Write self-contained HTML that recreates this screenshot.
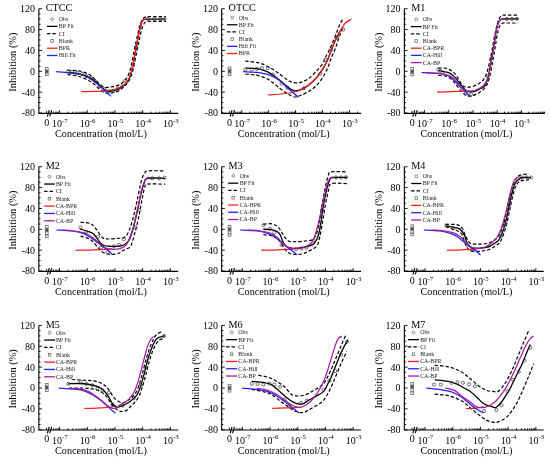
<!DOCTYPE html>
<html><head><meta charset="utf-8"><title>Inhibition curves</title><style>
html,body{margin:0;padding:0;background:#fff;overflow:hidden;}
svg{display:block;}
text{font-family:"Liberation Serif","Times New Roman",serif;fill:#000;}
.tl{font-size:10px;}
.sup{font-size:6.8px;}
.al{font-size:10.2px;}
.yl{font-size:10.4px;}
.tt{font-size:10.2px;}
.lg{font-size:5.9px;fill:#222;}
.ax{fill:none;stroke:#000;stroke-width:1.1;}
.tk{fill:none;stroke:#000;stroke-width:0.9;}
.brk{fill:none;stroke:#000;stroke-width:1.15;}
.ci{fill:none;stroke:#000;stroke-width:1.2;stroke-dasharray:3.4 2;}
.cv{fill:none;stroke-linejoin:round;}
.ln{stroke-width:1.3;}
.mk{fill:none;stroke:#444;stroke-width:0.6;}
.ob{fill:none;stroke:#333;stroke-width:0.7;}
.bk{stroke:#666;stroke-width:0.8;}
.bkl{stroke:#555;stroke-width:0.6;}
</style></head>
<body><svg width="550" height="460" viewBox="0 0 550 460">
<rect width="550" height="460" fill="#fff"/>
<g transform="translate(0 0)">
<path d="M38.85 8.72 V113.35 H178.25" class="ax"/>
<path d="M38.85 113.02h3.2 M38.85 107.8h1.7 M38.85 102.59h1.7 M38.85 97.38h1.7 M38.85 92.16h3.2 M38.85 86.94h1.7 M38.85 81.73h1.7 M38.85 76.52h1.7 M38.85 71.3h3.2 M38.85 66.08h1.7 M38.85 60.87h1.7 M38.85 55.66h1.7 M38.85 50.44h3.2 M38.85 45.22h1.7 M38.85 40.01h1.7 M38.85 34.8h1.7 M38.85 29.58h3.2 M38.85 24.37h1.7 M38.85 19.15h1.7 M38.85 13.94h1.7 M38.85 8.72h3.2 M53.4 113.35v-1.7 M55.26 113.35v-1.7 M56.87 113.35v-1.7 M58.28 113.35v-1.7 M59.55 113.35v-3.2 M67.89 113.35v-1.7 M72.77 113.35v-1.7 M76.23 113.35v-1.7 M78.91 113.35v-1.7 M81.1 113.35v-1.7 M82.96 113.35v-1.7 M84.57 113.35v-1.7 M85.98 113.35v-1.7 M87.25 113.35v-3.2 M95.59 113.35v-1.7 M100.47 113.35v-1.7 M103.93 113.35v-1.7 M106.61 113.35v-1.7 M108.8 113.35v-1.7 M110.66 113.35v-1.7 M112.27 113.35v-1.7 M113.68 113.35v-1.7 M114.95 113.35v-3.2 M123.29 113.35v-1.7 M128.17 113.35v-1.7 M131.63 113.35v-1.7 M134.31 113.35v-1.7 M136.5 113.35v-1.7 M138.36 113.35v-1.7 M139.97 113.35v-1.7 M141.38 113.35v-1.7 M142.65 113.35v-3.2 M150.99 113.35v-1.7 M155.87 113.35v-1.7 M159.33 113.35v-1.7 M162.01 113.35v-1.7 M164.2 113.35v-1.7 M166.06 113.35v-1.7 M167.67 113.35v-1.7 M169.08 113.35v-1.7 M170.35 113.35v-3.2 M46.55 113.35v-2.4" class="tk"/>
<path d="M47.35 116.6 L49.25 110.2 M49.75 116.4 L51.75 110.2" class="brk"/>
<text x="35.1" y="116.42" class="tl" text-anchor="end">-80</text>
<text x="35.1" y="95.56" class="tl" text-anchor="end">-40</text>
<text x="35.1" y="74.7" class="tl" text-anchor="end">0</text>
<text x="35.1" y="53.84" class="tl" text-anchor="end">40</text>
<text x="35.1" y="32.98" class="tl" text-anchor="end">80</text>
<text x="35.1" y="12.12" class="tl" text-anchor="end">120</text>
<text x="46.65" y="125.5" class="tl" text-anchor="middle">0</text>
<text x="59.95" y="126.9" class="tl" text-anchor="middle">10<tspan class="sup" dy="-4.4">-7</tspan></text>
<text x="87.65" y="126.9" class="tl" text-anchor="middle">10<tspan class="sup" dy="-4.4">-6</tspan></text>
<text x="115.35" y="126.9" class="tl" text-anchor="middle">10<tspan class="sup" dy="-4.4">-5</tspan></text>
<text x="143.05" y="126.9" class="tl" text-anchor="middle">10<tspan class="sup" dy="-4.4">-4</tspan></text>
<text x="170.75" y="126.9" class="tl" text-anchor="middle">10<tspan class="sup" dy="-4.4">-3</tspan></text>
<text x="101" y="137" class="al" text-anchor="middle">Concentration (mol/L)</text>
<text transform="translate(16.1 62.1) rotate(-90)" class="al yl" text-anchor="middle">Inhibition (%)</text>
<text x="45.75" y="11.2" class="tt">CTCC</text>
<circle cx="52.2" cy="19.1" r="1.4" class="mk"/>
<text x="58.75" y="21" class="lg">Obs</text>
<path d="M46.95 26.38H57.45" stroke="#000" class="ln"/>
<text x="58.75" y="28.28" class="lg">BP Fit</text>
<path d="M46.95 33.66H57.45" class="ci"/>
<text x="58.75" y="35.56" class="lg">CI</text>
<rect x="50.9" y="39.64" width="2.6" height="2.6" class="mk"/>
<text x="58.75" y="42.84" class="lg">Blank</text>
<path d="M46.95 48.22H57.45" stroke="#ff1c1c" class="ln"/>
<text x="58.75" y="50.12" class="lg">BPR</text>
<path d="M46.95 55.5H57.45" stroke="#2222fa" class="ln"/>
<text x="58.75" y="57.4" class="lg">Hill Fit</text>
<rect x="45.35" y="67.6" width="2.8" height="2.33" fill="#fff" class="bk"/>
<rect x="45.35" y="70.43" width="2.8" height="2.33" fill="#444" class="bk"/>
<rect x="45.35" y="73.27" width="2.8" height="2.33" fill="#fff" class="bk"/>
</g>
<path d="M67.5 72.4 C69.43 72.63 75.72 73.08 79.1 73.8 C82.48 74.52 85.13 75.48 87.8 76.7 C90.47 77.92 92.92 79.4 95.1 81.1 C97.28 82.8 99.2 85.38 100.9 86.9 C102.6 88.42 103.6 89.47 105.3 90.2 C107 90.93 108.92 91.48 111.1 91.3 C113.28 91.12 116.22 90.1 118.4 89.1 C120.58 88.1 122.63 86.68 124.2 85.3 C125.77 83.92 126.77 82.4 127.8 80.8 C128.83 79.2 129.65 77.8 130.4 75.7 C131.15 73.6 131.7 70.95 132.3 68.2 C132.9 65.45 133.38 62.45 134 59.2 C134.62 55.95 135.3 52.45 136 48.7 C136.7 44.95 137.5 40.28 138.2 36.7 C138.9 33.12 139.57 29.72 140.2 27.2 C140.83 24.68 141.37 22.87 142 21.6 C142.63 20.33 143.17 20.02 144 19.6 C144.83 19.18 143.43 19.18 147 19.1 C150.57 19.02 162.33 19.1 165.4 19.1" stroke="#000" stroke-width="1.3" class="cv"/>
<path d="M67.5 70.2 C69.43 70.32 75.63 70.25 79.1 70.9 C82.57 71.55 85.82 72.88 88.3 74.1 C90.78 75.32 92.23 76.63 94 78.2 C95.77 79.77 97.12 82 98.9 83.5 C100.68 85 102.52 86.65 104.7 87.2 C106.88 87.75 109.55 87.2 112 86.8 C114.45 86.4 117.48 85.63 119.4 84.8 C121.32 83.97 122.23 83.02 123.5 81.8 C124.77 80.58 125.98 79.13 127 77.5 C128.02 75.87 128.83 74.25 129.6 72 C130.37 69.75 130.88 67.33 131.6 64 C132.32 60.67 133.13 55.83 133.9 52 C134.67 48.17 135.43 44.5 136.2 41 C136.97 37.5 137.77 33.92 138.5 31 C139.23 28.08 139.85 25.57 140.6 23.5 C141.35 21.43 142.1 19.72 143 18.6 C143.9 17.48 145 17.13 146 16.8 C147 16.47 145.67 16.63 149 16.6 C152.33 16.57 163.17 16.6 166 16.6" class="ci"/>
<path d="M67.5 74.5 C69.43 74.83 75.5 75.47 79.1 76.5 C82.7 77.53 86.48 79.32 89.1 80.7 C91.72 82.08 93.02 83.37 94.8 84.8 C96.58 86.23 98.02 87.93 99.8 89.3 C101.58 90.67 103.47 92.38 105.5 93 C107.53 93.62 109.82 93.35 112 93 C114.18 92.65 116.68 91.87 118.6 90.9 C120.52 89.93 122.02 88.52 123.5 87.2 C124.98 85.88 126.33 84.62 127.5 83 C128.67 81.38 129.67 79.33 130.5 77.5 C131.33 75.67 131.85 74.33 132.5 72 C133.15 69.67 133.7 66.83 134.4 63.5 C135.1 60.17 135.93 55.75 136.7 52 C137.47 48.25 138.23 44.5 139 41 C139.77 37.5 140.58 33.67 141.3 31 C142.02 28.33 142.57 26.5 143.3 25 C144.03 23.5 144.58 22.6 145.7 22 C146.82 21.4 146.62 21.5 150 21.4 C153.38 21.3 163.33 21.4 166 21.4" class="ci"/>
<path d="M81.3 91.7 C83.35 91.63 90.25 91.37 93.6 91.3 C96.95 91.23 99 91.43 101.4 91.3 C103.8 91.17 105.95 90.77 108 90.5 C110.05 90.23 111.8 90.15 113.7 89.7 C115.6 89.25 117.63 88.65 119.4 87.8 C121.17 86.95 122.9 85.82 124.3 84.6 C125.7 83.38 126.78 82.02 127.8 80.5 C128.82 78.98 129.65 77.58 130.4 75.5 C131.15 73.42 131.7 70.75 132.3 68 C132.9 65.25 133.38 62.25 134 59 C134.62 55.75 135.3 52.25 136 48.5 C136.7 44.75 137.5 40.08 138.2 36.5 C138.9 32.92 139.57 29.5 140.2 27 C140.83 24.5 141.37 22.77 142 21.5 C142.63 20.23 143.33 19.8 144 19.4 C144.67 19 145.67 19.15 146 19.1" stroke="#ff1c1c" stroke-width="1.25" class="cv"/>
<path d="M55.8 71.6 C57.98 71.8 64.78 72.32 68.9 72.8 C73.02 73.28 77.1 73.6 80.5 74.5 C83.9 75.4 86.63 76.73 89.3 78.2 C91.97 79.67 94.08 81.37 96.5 83.3 C98.92 85.23 101.37 87.62 103.8 89.8 C106.23 91.98 109.88 95.3 111.1 96.4" stroke="#2222fa" stroke-width="1.25" class="cv"/>
<circle cx="68" cy="71.5" r="1.55" class="ob"/>
<circle cx="72" cy="72" r="1.55" class="ob"/>
<circle cx="77" cy="73" r="1.55" class="ob"/>
<circle cx="82" cy="74" r="1.55" class="ob"/>
<circle cx="86" cy="76" r="1.55" class="ob"/>
<circle cx="91" cy="78" r="1.55" class="ob"/>
<circle cx="95" cy="81" r="1.55" class="ob"/>
<circle cx="100" cy="86" r="1.55" class="ob"/>
<circle cx="104.5" cy="89" r="1.55" class="ob"/>
<circle cx="109" cy="91.5" r="1.55" class="ob"/>
<circle cx="113" cy="91" r="1.55" class="ob"/>
<circle cx="118" cy="88.5" r="1.55" class="ob"/>
<circle cx="122" cy="86.5" r="1.55" class="ob"/>
<circle cx="125.3" cy="80.5" r="1.55" class="ob"/>
<circle cx="129.9" cy="74.5" r="1.55" class="ob"/>
<circle cx="136" cy="47" r="1.55" class="ob"/>
<circle cx="140.5" cy="27" r="1.55" class="ob"/>
<circle cx="148" cy="19" r="1.55" class="ob"/>
<circle cx="154" cy="19" r="1.55" class="ob"/>
<circle cx="160.5" cy="19" r="1.55" class="ob"/>
<circle cx="164.5" cy="19" r="1.55" class="ob"/>
<g transform="translate(182.8 0)">
<path d="M38.85 8.72 V113.35 H178.3" class="ax"/>
<path d="M38.85 113.02h3.2 M38.85 107.8h1.7 M38.85 102.59h1.7 M38.85 97.38h1.7 M38.85 92.16h3.2 M38.85 86.94h1.7 M38.85 81.73h1.7 M38.85 76.52h1.7 M38.85 71.3h3.2 M38.85 66.08h1.7 M38.85 60.87h1.7 M38.85 55.66h1.7 M38.85 50.44h3.2 M38.85 45.22h1.7 M38.85 40.01h1.7 M38.85 34.8h1.7 M38.85 29.58h3.2 M38.85 24.37h1.7 M38.85 19.15h1.7 M38.85 13.94h1.7 M38.85 8.72h3.2 M53.03 113.35v-1.7 M54.83 113.35v-1.7 M56.39 113.35v-1.7 M57.77 113.35v-1.7 M59 113.35v-3.2 M67.1 113.35v-1.7 M71.83 113.35v-1.7 M75.2 113.35v-1.7 M77.8 113.35v-1.7 M79.93 113.35v-1.7 M81.73 113.35v-1.7 M83.29 113.35v-1.7 M84.67 113.35v-1.7 M85.9 113.35v-3.2 M94 113.35v-1.7 M98.73 113.35v-1.7 M102.1 113.35v-1.7 M104.7 113.35v-1.7 M106.83 113.35v-1.7 M108.63 113.35v-1.7 M110.19 113.35v-1.7 M111.57 113.35v-1.7 M112.8 113.35v-3.2 M120.9 113.35v-1.7 M125.63 113.35v-1.7 M129 113.35v-1.7 M131.6 113.35v-1.7 M133.73 113.35v-1.7 M135.53 113.35v-1.7 M137.09 113.35v-1.7 M138.47 113.35v-1.7 M139.7 113.35v-3.2 M147.8 113.35v-1.7 M152.53 113.35v-1.7 M155.9 113.35v-1.7 M158.5 113.35v-1.7 M160.63 113.35v-1.7 M162.43 113.35v-1.7 M163.99 113.35v-1.7 M165.37 113.35v-1.7 M166.6 113.35v-3.2 M174.7 113.35v-1.7 M46.55 113.35v-2.4" class="tk"/>
<path d="M47.35 116.6 L49.25 110.2 M49.75 116.4 L51.75 110.2" class="brk"/>
<text x="35.1" y="116.42" class="tl" text-anchor="end">-80</text>
<text x="35.1" y="95.56" class="tl" text-anchor="end">-40</text>
<text x="35.1" y="74.7" class="tl" text-anchor="end">0</text>
<text x="35.1" y="53.84" class="tl" text-anchor="end">40</text>
<text x="35.1" y="32.98" class="tl" text-anchor="end">80</text>
<text x="35.1" y="12.12" class="tl" text-anchor="end">120</text>
<text x="46.65" y="125.5" class="tl" text-anchor="middle">0</text>
<text x="59.4" y="126.9" class="tl" text-anchor="middle">10<tspan class="sup" dy="-4.4">-7</tspan></text>
<text x="86.3" y="126.9" class="tl" text-anchor="middle">10<tspan class="sup" dy="-4.4">-6</tspan></text>
<text x="113.2" y="126.9" class="tl" text-anchor="middle">10<tspan class="sup" dy="-4.4">-5</tspan></text>
<text x="140.1" y="126.9" class="tl" text-anchor="middle">10<tspan class="sup" dy="-4.4">-4</tspan></text>
<text x="167" y="126.9" class="tl" text-anchor="middle">10<tspan class="sup" dy="-4.4">-3</tspan></text>
<text x="101" y="137" class="al" text-anchor="middle">Concentration (mol/L)</text>
<text transform="translate(16.1 62.1) rotate(-90)" class="al yl" text-anchor="middle">Inhibition (%)</text>
<text x="45.75" y="11.2" class="tt">OTCC</text>
<circle cx="49.45" cy="17.6" r="1.4" class="mk"/>
<text x="56.05" y="19.5" class="lg">Obs</text>
<path d="M44.25 24.78H54.65" stroke="#000" class="ln"/>
<text x="56.05" y="26.68" class="lg">BP Fit</text>
<path d="M44.25 31.96H54.65" class="ci"/>
<text x="56.05" y="33.86" class="lg">CI</text>
<rect x="48.15" y="37.84" width="2.6" height="2.6" class="mk"/>
<text x="56.05" y="41.04" class="lg">Blank</text>
<path d="M44.25 46.32H54.65" stroke="#2222fa" class="ln"/>
<text x="56.05" y="48.22" class="lg">Hill Fit</text>
<path d="M44.25 53.5H54.65" stroke="#ff1c1c" class="ln"/>
<text x="56.05" y="55.4" class="lg">BPR</text>
<rect x="45.35" y="67.1" width="2.8" height="2.5" fill="#fff" class="bk"/>
<rect x="45.35" y="70.1" width="2.8" height="2.5" fill="#444" class="bk"/>
<rect x="45.35" y="73.1" width="2.8" height="2.5" fill="#fff" class="bk"/>
</g>
<path d="M245.5 68.1 C247.32 68.18 253.32 68.23 256.4 68.6 C259.48 68.97 261.47 69.38 264 70.3 C266.53 71.22 269.23 72.65 271.6 74.1 C273.97 75.55 276.02 77.27 278.2 79 C280.38 80.73 282.7 82.87 284.7 84.5 C286.7 86.13 288.57 87.75 290.2 88.8 C291.83 89.85 293.05 90.53 294.5 90.8 C295.95 91.07 297.48 90.77 298.9 90.4 C300.32 90.03 301.4 89.47 303 88.6 C304.6 87.73 306.28 86.97 308.5 85.2 C310.72 83.43 313.92 80.72 316.3 78 C318.68 75.28 320.93 71.87 322.8 68.9 C324.67 65.93 325.9 63.82 327.5 60.2 C329.1 56.58 330.87 51 332.4 47.2 C333.93 43.4 335.43 40.1 336.7 37.4 C337.97 34.7 339.45 32.07 340 31" stroke="#000" stroke-width="1.3" class="cv"/>
<path d="M245.3 61.1 C247.6 61.42 254.87 61.83 259.1 63 C263.33 64.17 267.3 66.28 270.7 68.1 C274.1 69.92 276.58 71.83 279.5 73.9 C282.42 75.97 285.78 79.05 288.2 80.5 C290.62 81.95 291.93 82.28 294 82.6 C296.07 82.92 298.18 83.08 300.6 82.4 C303.02 81.72 305.88 80.35 308.5 78.5 C311.12 76.65 313.92 73.8 316.3 71.3 C318.68 68.8 321.3 65.75 322.8 63.5 C324.3 61.25 324.15 60.2 325.3 57.8 C326.45 55.4 328.25 52.18 329.7 49.1 C331.15 46.02 332.73 42.37 334 39.3 C335.27 36.23 336.3 33.23 337.3 30.7 C338.3 28.17 339.1 26.02 340 24.1 C340.9 22.18 342.25 20.02 342.7 19.2" class="ci"/>
<path d="M245.5 74.1 C247.32 74.28 252.95 74.48 256.4 75.2 C259.85 75.92 263.3 77.03 266.2 78.4 C269.1 79.77 271.45 81.67 273.8 83.4 C276.15 85.13 278.3 87.27 280.3 88.8 C282.3 90.33 283.97 91.42 285.8 92.6 C287.63 93.78 289.67 95.17 291.3 95.9 C292.93 96.63 294.05 97.1 295.6 97 C297.15 96.9 298.23 96.33 300.6 95.3 C302.97 94.27 306.97 92.63 309.8 90.8 C312.63 88.97 315.22 86.9 317.6 84.3 C319.98 81.7 322.28 78.25 324.1 75.2 C325.92 72.15 327.3 68.9 328.5 66 C329.7 63.1 330.2 60.62 331.3 57.8 C332.4 54.98 333.92 52.18 335.1 49.1 C336.28 46.02 337.4 42.2 338.4 39.3 C339.4 36.4 340.4 33.5 341.1 31.7 C341.8 29.9 342.35 29.03 342.6 28.5" class="ci"/>
<path d="M267.8 95 C269.98 94.83 276.78 94.42 280.9 94 C285.02 93.58 289.32 93.12 292.5 92.5 C295.68 91.88 297.33 91.55 300 90.3 C302.67 89.05 305.78 87.08 308.5 85 C311.22 82.92 313.92 80.52 316.3 77.8 C318.68 75.08 320.93 71.67 322.8 68.7 C324.67 65.73 325.9 63.62 327.5 60 C329.1 56.38 330.87 50.8 332.4 47 C333.93 43.2 335.25 40.1 336.7 37.2 C338.15 34.3 339.65 31.97 341.1 29.6 C342.55 27.23 343.68 24.73 345.4 23 C347.12 21.27 350.4 19.83 351.4 19.2" stroke="#ff1c1c" stroke-width="1.25" class="cv"/>
<path d="M243.1 71.7 C245.77 71.87 254.5 72.08 259.1 72.7 C263.7 73.32 267.3 74.1 270.7 75.4 C274.1 76.7 276.58 78.32 279.5 80.5 C282.42 82.68 285.78 86.33 288.2 88.5 C290.62 90.67 292.3 92.05 294 93.5 C295.7 94.95 297.67 96.58 298.4 97.2" stroke="#2222fa" stroke-width="1.25" class="cv"/>
<circle cx="245.3" cy="69.5" r="1.55" class="ob"/>
<circle cx="251.8" cy="69.5" r="1.55" class="ob"/>
<circle cx="256.9" cy="68.8" r="1.55" class="ob"/>
<circle cx="262" cy="68.1" r="1.55" class="ob"/>
<circle cx="267.8" cy="68.1" r="1.55" class="ob"/>
<circle cx="272.9" cy="74.6" r="1.55" class="ob"/>
<circle cx="281.6" cy="83.4" r="1.55" class="ob"/>
<circle cx="287.5" cy="87.7" r="1.55" class="ob"/>
<circle cx="303.9" cy="88.2" r="1.55" class="ob"/>
<circle cx="320.5" cy="73.5" r="1.55" class="ob"/>
<circle cx="325.4" cy="59.8" r="1.55" class="ob"/>
<circle cx="331.3" cy="49.1" r="1.55" class="ob"/>
<circle cx="337.1" cy="37.4" r="1.55" class="ob"/>
<circle cx="343.3" cy="29.6" r="1.55" class="ob"/>
<g transform="translate(365.5 0)">
<path d="M38.85 8.72 V113.35 H179.25" class="ax"/>
<path d="M38.85 113.02h3.2 M38.85 107.8h1.7 M38.85 102.59h1.7 M38.85 97.38h1.7 M38.85 92.16h3.2 M38.85 86.94h1.7 M38.85 81.73h1.7 M38.85 76.52h1.7 M38.85 71.3h3.2 M38.85 66.08h1.7 M38.85 60.87h1.7 M38.85 55.66h1.7 M38.85 50.44h3.2 M38.85 45.22h1.7 M38.85 40.01h1.7 M38.85 34.8h1.7 M38.85 29.58h3.2 M38.85 24.37h1.7 M38.85 19.15h1.7 M38.85 13.94h1.7 M38.85 8.72h3.2 M53.57 113.35v-1.7 M55.19 113.35v-1.7 M56.6 113.35v-1.7 M57.84 113.35v-1.7 M58.95 113.35v-3.2 M66.25 113.35v-1.7 M70.52 113.35v-1.7 M73.55 113.35v-1.7 M75.9 113.35v-1.7 M77.82 113.35v-1.7 M79.44 113.35v-1.7 M80.85 113.35v-1.7 M82.09 113.35v-1.7 M83.2 113.35v-3.2 M90.5 113.35v-1.7 M94.77 113.35v-1.7 M97.8 113.35v-1.7 M100.15 113.35v-1.7 M102.07 113.35v-1.7 M103.69 113.35v-1.7 M105.1 113.35v-1.7 M106.34 113.35v-1.7 M107.45 113.35v-3.2 M114.75 113.35v-1.7 M119.02 113.35v-1.7 M122.05 113.35v-1.7 M124.4 113.35v-1.7 M126.32 113.35v-1.7 M127.94 113.35v-1.7 M129.35 113.35v-1.7 M130.59 113.35v-1.7 M131.7 113.35v-3.2 M139 113.35v-1.7 M143.27 113.35v-1.7 M146.3 113.35v-1.7 M148.65 113.35v-1.7 M150.57 113.35v-1.7 M152.19 113.35v-1.7 M153.6 113.35v-1.7 M154.84 113.35v-1.7 M155.95 113.35v-3.2 M163.25 113.35v-1.7 M167.52 113.35v-1.7 M170.55 113.35v-1.7 M172.9 113.35v-1.7 M174.82 113.35v-1.7 M176.44 113.35v-1.7 M177.85 113.35v-1.7 M179.09 113.35v-1.7 M46.55 113.35v-2.4" class="tk"/>
<path d="M47.35 116.6 L49.25 110.2 M49.75 116.4 L51.75 110.2" class="brk"/>
<text x="35.1" y="116.42" class="tl" text-anchor="end">-80</text>
<text x="35.1" y="95.56" class="tl" text-anchor="end">-40</text>
<text x="35.1" y="74.7" class="tl" text-anchor="end">0</text>
<text x="35.1" y="53.84" class="tl" text-anchor="end">40</text>
<text x="35.1" y="32.98" class="tl" text-anchor="end">80</text>
<text x="35.1" y="12.12" class="tl" text-anchor="end">120</text>
<text x="46.65" y="125.5" class="tl" text-anchor="middle">0</text>
<text x="59.35" y="126.9" class="tl" text-anchor="middle">10<tspan class="sup" dy="-4.4">-7</tspan></text>
<text x="83.6" y="126.9" class="tl" text-anchor="middle">10<tspan class="sup" dy="-4.4">-6</tspan></text>
<text x="107.85" y="126.9" class="tl" text-anchor="middle">10<tspan class="sup" dy="-4.4">-5</tspan></text>
<text x="132.1" y="126.9" class="tl" text-anchor="middle">10<tspan class="sup" dy="-4.4">-4</tspan></text>
<text x="156.35" y="126.9" class="tl" text-anchor="middle">10<tspan class="sup" dy="-4.4">-3</tspan></text>
<text x="101" y="137" class="al" text-anchor="middle">Concentration (mol/L)</text>
<text transform="translate(16.1 62.1) rotate(-90)" class="al yl" text-anchor="middle">Inhibition (%)</text>
<text x="45.75" y="11.2" class="tt">M1</text>
<circle cx="50.75" cy="19.4" r="1.4" class="mk"/>
<text x="57.35" y="21.3" class="lg">Obs</text>
<path d="M45.35 26.6H56.15" stroke="#000" class="ln"/>
<text x="57.35" y="28.5" class="lg">BP Fit</text>
<path d="M45.35 33.8H56.15" class="ci"/>
<text x="57.35" y="35.7" class="lg">CI</text>
<rect x="49.45" y="39.7" width="2.6" height="2.6" class="mk"/>
<text x="57.35" y="42.9" class="lg">Blank</text>
<path d="M45.35 48.2H56.15" stroke="#ff1c1c" class="ln"/>
<text x="57.35" y="50.1" class="lg">CA-BPR</text>
<path d="M45.35 55.4H56.15" stroke="#2222fa" class="ln"/>
<text x="57.35" y="57.3" class="lg">CA-Hill</text>
<path d="M45.35 62.6H56.15" stroke="#a81c9e" class="ln"/>
<text x="57.35" y="64.5" class="lg">CA-BP</text>
<rect x="45.35" y="67.5" width="2.8" height="2.43" fill="#fff" class="bk"/>
<rect x="45.35" y="70.43" width="2.8" height="2.43" fill="#444" class="bk"/>
<rect x="45.35" y="73.37" width="2.8" height="2.43" fill="#fff" class="bk"/>
</g>
<path d="M438.2 70.4 C439 70.58 441.1 71.05 443 71.5 C444.9 71.95 447.58 72.12 449.6 73.1 C451.62 74.08 453.47 75.77 455.1 77.4 C456.73 79.03 457.95 81.07 459.4 82.9 C460.85 84.73 462.33 86.95 463.8 88.4 C465.27 89.85 466.57 91.07 468.2 91.6 C469.83 92.13 471.78 91.97 473.6 91.6 C475.42 91.23 477.28 90.3 479.1 89.4 C480.92 88.5 483.05 88.02 484.5 86.2 C485.95 84.38 486.95 81.2 487.8 78.5 C488.65 75.8 489.03 72.92 489.6 70 C490.17 67.08 490.68 64 491.2 61 C491.72 58 492.17 55.17 492.7 52 C493.23 48.83 493.82 45.5 494.4 42 C494.98 38.5 495.6 34.08 496.2 31 C496.8 27.92 497.37 25.33 498 23.5 C498.63 21.67 499.08 20.75 500 20 C500.92 19.25 500.48 19.17 503.5 19 C506.52 18.83 515.67 19 518.1 19" stroke="#000" stroke-width="1.3" class="cv"/>
<path d="M438.2 68.2 C439.38 68.2 443.03 67.75 445.3 68.2 C447.57 68.65 449.98 69.72 451.8 70.9 C453.62 72.08 454.93 73.67 456.2 75.3 C457.47 76.93 458.32 78.98 459.4 80.7 C460.48 82.42 461.42 84.5 462.7 85.6 C463.98 86.7 465.28 87.2 467.1 87.3 C468.92 87.4 471.6 86.85 473.6 86.2 C475.6 85.55 477.5 84.43 479.1 83.4 C480.7 82.37 482.08 81.32 483.2 80 C484.32 78.68 485.03 77.25 485.8 75.5 C486.57 73.75 487.17 71.75 487.8 69.5 C488.43 67.25 489.02 64.58 489.6 62 C490.18 59.42 490.77 56.67 491.3 54 C491.83 51.33 492.25 49 492.8 46 C493.35 43 493.93 39.33 494.6 36 C495.27 32.67 496.07 28.83 496.8 26 C497.53 23.17 498.22 20.73 499 19 C499.78 17.27 500.5 16.23 501.5 15.6 C502.5 14.97 502.23 15.27 505 15.2 C507.77 15.13 515.92 15.2 518.1 15.2" class="ci"/>
<path d="M438.2 75.3 C439.57 75.48 443.95 75.5 446.4 76.4 C448.85 77.3 451.08 79.07 452.9 80.7 C454.72 82.33 455.85 84.38 457.3 86.2 C458.75 88.02 460.15 90.07 461.6 91.6 C463.05 93.13 464.37 94.67 466 95.4 C467.63 96.13 469.58 96.27 471.4 96 C473.22 95.73 475.08 94.72 476.9 93.8 C478.72 92.88 480.67 91.95 482.3 90.5 C483.93 89.05 485.53 87.18 486.7 85.1 C487.87 83.02 488.57 80.52 489.3 78 C490.03 75.48 490.52 72.83 491.1 70 C491.68 67.17 492.25 64 492.8 61 C493.35 58 493.87 55.17 494.4 52 C494.93 48.83 495.43 45.33 496 42 C496.57 38.67 497.17 34.75 497.8 32 C498.43 29.25 499.02 26.97 499.8 25.5 C500.58 24.03 501.47 23.62 502.5 23.2 C503.53 22.78 503.4 23.03 506 23 C508.6 22.97 516.08 23 518.1 23" class="ci"/>
<path d="M437.1 92.2 C439.55 92.1 446.98 91.78 451.8 91.6 C456.62 91.42 462.97 91.2 466 91.1 C469.03 91 469.33 91.02 470 91" stroke="#ff1c1c" stroke-width="1.25" class="cv"/>
<path d="M421.5 72.5 C422.92 72.57 426.77 72.72 430 72.9 C433.23 73.08 437.82 73.12 440.9 73.6 C443.98 74.08 446.13 74.52 448.5 75.8 C450.87 77.08 452.92 79.2 455.1 81.3 C457.28 83.4 459.6 86.32 461.6 88.4 C463.6 90.48 465.47 92.35 467.1 93.8 C468.73 95.25 470.68 96.55 471.4 97.1" stroke="#2222fa" stroke-width="1.25" class="cv"/>
<path d="M425.3 72.6 C426.08 72.68 427.4 72.93 430 73.1 C432.6 73.27 437.82 73.23 440.9 73.6 C443.98 73.97 446.13 74.3 448.5 75.3 C450.87 76.3 453.1 77.78 455.1 79.6 C457.1 81.42 458.87 84.38 460.5 86.2 C462.13 88.02 463.43 89.68 464.9 90.5 C466.37 91.32 467.48 91.18 469.3 91.1 C471.12 91.02 473.8 90.63 475.8 90 C477.8 89.37 479.67 88.48 481.3 87.3 C482.93 86.12 484.33 85.08 485.6 82.9 C486.87 80.72 488.07 77.18 488.9 74.2 C489.73 71.22 490.05 68.03 490.6 65 C491.15 61.97 491.65 59.33 492.2 56 C492.75 52.67 493.33 48.67 493.9 45 C494.47 41.33 495 37.33 495.6 34 C496.2 30.67 496.83 27.25 497.5 25 C498.17 22.75 498.68 21.5 499.6 20.5 C500.52 19.5 501.93 19.28 503 19 C504.07 18.72 505.5 18.83 506 18.8" stroke="#a81c9e" stroke-width="1.25" class="cv"/>
<circle cx="438.3" cy="69.5" r="1.55" class="ob"/>
<circle cx="440.5" cy="71" r="1.55" class="ob"/>
<circle cx="466" cy="93.5" r="1.55" class="ob"/>
<circle cx="471" cy="94.3" r="1.55" class="ob"/>
<circle cx="487.5" cy="76" r="1.55" class="ob"/>
<circle cx="491.5" cy="58" r="1.55" class="ob"/>
<circle cx="507" cy="19" r="1.55" class="ob"/>
<circle cx="512" cy="19" r="1.55" class="ob"/>
<circle cx="517" cy="18.8" r="1.55" class="ob"/>
<g transform="translate(0 158)">
<path d="M38.85 8.72 V113.35 H178.25" class="ax"/>
<path d="M38.85 113.02h3.2 M38.85 107.8h1.7 M38.85 102.59h1.7 M38.85 97.38h1.7 M38.85 92.16h3.2 M38.85 86.94h1.7 M38.85 81.73h1.7 M38.85 76.52h1.7 M38.85 71.3h3.2 M38.85 66.08h1.7 M38.85 60.87h1.7 M38.85 55.66h1.7 M38.85 50.44h3.2 M38.85 45.22h1.7 M38.85 40.01h1.7 M38.85 34.8h1.7 M38.85 29.58h3.2 M38.85 24.37h1.7 M38.85 19.15h1.7 M38.85 13.94h1.7 M38.85 8.72h3.2 M53.4 113.35v-1.7 M55.26 113.35v-1.7 M56.87 113.35v-1.7 M58.28 113.35v-1.7 M59.55 113.35v-3.2 M67.89 113.35v-1.7 M72.77 113.35v-1.7 M76.23 113.35v-1.7 M78.91 113.35v-1.7 M81.1 113.35v-1.7 M82.96 113.35v-1.7 M84.57 113.35v-1.7 M85.98 113.35v-1.7 M87.25 113.35v-3.2 M95.59 113.35v-1.7 M100.47 113.35v-1.7 M103.93 113.35v-1.7 M106.61 113.35v-1.7 M108.8 113.35v-1.7 M110.66 113.35v-1.7 M112.27 113.35v-1.7 M113.68 113.35v-1.7 M114.95 113.35v-3.2 M123.29 113.35v-1.7 M128.17 113.35v-1.7 M131.63 113.35v-1.7 M134.31 113.35v-1.7 M136.5 113.35v-1.7 M138.36 113.35v-1.7 M139.97 113.35v-1.7 M141.38 113.35v-1.7 M142.65 113.35v-3.2 M150.99 113.35v-1.7 M155.87 113.35v-1.7 M159.33 113.35v-1.7 M162.01 113.35v-1.7 M164.2 113.35v-1.7 M166.06 113.35v-1.7 M167.67 113.35v-1.7 M169.08 113.35v-1.7 M170.35 113.35v-3.2 M46.55 113.35v-2.4" class="tk"/>
<path d="M47.35 116.6 L49.25 110.2 M49.75 116.4 L51.75 110.2" class="brk"/>
<text x="35.1" y="116.42" class="tl" text-anchor="end">-80</text>
<text x="35.1" y="95.56" class="tl" text-anchor="end">-40</text>
<text x="35.1" y="74.7" class="tl" text-anchor="end">0</text>
<text x="35.1" y="53.84" class="tl" text-anchor="end">40</text>
<text x="35.1" y="32.98" class="tl" text-anchor="end">80</text>
<text x="35.1" y="12.12" class="tl" text-anchor="end">120</text>
<text x="46.65" y="125.5" class="tl" text-anchor="middle">0</text>
<text x="59.95" y="126.9" class="tl" text-anchor="middle">10<tspan class="sup" dy="-4.4">-7</tspan></text>
<text x="87.65" y="126.9" class="tl" text-anchor="middle">10<tspan class="sup" dy="-4.4">-6</tspan></text>
<text x="115.35" y="126.9" class="tl" text-anchor="middle">10<tspan class="sup" dy="-4.4">-5</tspan></text>
<text x="143.05" y="126.9" class="tl" text-anchor="middle">10<tspan class="sup" dy="-4.4">-4</tspan></text>
<text x="170.75" y="126.9" class="tl" text-anchor="middle">10<tspan class="sup" dy="-4.4">-3</tspan></text>
<text x="101" y="137" class="al" text-anchor="middle">Concentration (mol/L)</text>
<text transform="translate(16.1 62.1) rotate(-90)" class="al yl" text-anchor="middle">Inhibition (%)</text>
<text x="45.75" y="11.2" class="tt">M2</text>
<circle cx="49.45" cy="18.7" r="1.4" class="mk"/>
<text x="55.95" y="20.6" class="lg">Obs</text>
<path d="M44.15 26.05H54.75" stroke="#000" class="ln"/>
<text x="55.95" y="27.95" class="lg">BP Fit</text>
<path d="M44.15 33.4H54.75" class="ci"/>
<text x="55.95" y="35.3" class="lg">CI</text>
<rect x="48.15" y="39.45" width="2.6" height="2.6" class="mk"/>
<text x="55.95" y="42.65" class="lg">Blank</text>
<path d="M44.15 48.1H54.75" stroke="#ff1c1c" class="ln"/>
<text x="55.95" y="50" class="lg">CA-BPR</text>
<path d="M44.15 55.45H54.75" stroke="#2222fa" class="ln"/>
<text x="55.95" y="57.35" class="lg">CA-Hill</text>
<path d="M44.15 62.8H54.75" stroke="#a81c9e" class="ln"/>
<text x="55.95" y="64.7" class="lg">CA-BP</text>
<rect x="45.35" y="67.5" width="2.8" height="2.68" fill="#fff" class="bk"/>
<rect x="45.35" y="70.67" width="2.8" height="2.68" fill="#444" class="bk"/>
<rect x="45.35" y="73.85" width="2.8" height="2.68" fill="#fff" class="bk"/>
<rect x="45.35" y="77.03" width="2.8" height="2.68" fill="#fff" class="bk"/>
</g>
<path d="M79.8 228.8 C80.9 229.17 84.1 230.15 86.4 231 C88.7 231.85 91.42 232.08 93.6 233.9 C95.78 235.72 97.8 239.97 99.5 241.9 C101.2 243.83 101.87 244.77 103.8 245.5 C105.73 246.23 108.67 246.17 111.1 246.3 C113.53 246.43 116.22 246.55 118.4 246.3 C120.58 246.05 122.38 245.9 124.2 244.8 C126.02 243.7 127.88 242.17 129.3 239.7 C130.72 237.23 131.65 233.53 132.7 230 C133.75 226.47 134.62 222.67 135.6 218.5 C136.58 214.33 137.62 209.5 138.6 205 C139.58 200.5 140.53 195.25 141.5 191.5 C142.47 187.75 143.42 184.7 144.4 182.5 C145.38 180.3 143.97 179 147.4 178.3 C150.83 177.6 162.07 178.3 165 178.3" stroke="#000" stroke-width="1.3" class="cv"/>
<path d="M80.5 222.3 C82.2 222.53 88.03 222.5 90.7 223.7 C93.37 224.9 94.55 227.2 96.5 229.5 C98.45 231.8 100.45 235.92 102.4 237.5 C104.35 239.08 105.78 238.87 108.2 239 C110.62 239.13 114.23 238.55 116.9 238.3 C119.57 238.05 122.22 238.65 124.2 237.5 C126.18 236.35 127.22 235.02 128.8 231.4 C130.38 227.78 132.23 221.33 133.7 215.8 C135.17 210.27 136.3 204.07 137.6 198.2 C138.9 192.33 140.35 184.72 141.5 180.6 C142.65 176.48 143.37 175.12 144.5 173.5 C145.63 171.88 144.88 171.33 148.3 170.9 C151.72 170.47 162.22 170.9 165 170.9" class="ci"/>
<path d="M80.5 236.1 C82.2 236.7 87.78 237.77 90.7 239.7 C93.62 241.63 96.05 245.63 98 247.7 C99.95 249.77 100.47 251 102.4 252.1 C104.33 253.2 106.93 254.07 109.6 254.3 C112.27 254.53 116.33 254.05 118.4 253.5 C120.47 252.95 120.73 251.75 122 251 C123.27 250.25 124.55 249.82 126 249 C127.45 248.18 129.25 248.7 130.7 246.1 C132.15 243.5 133.38 238.12 134.7 233.4 C136.02 228.68 137.47 223.02 138.6 217.8 C139.73 212.58 140.53 206.98 141.5 202.1 C142.47 197.22 143.42 191.48 144.4 188.5 C145.38 185.52 143.97 184.92 147.4 184.2 C150.83 183.48 162.07 184.2 165 184.2" class="ci"/>
<path d="M75.5 250.3 C78.52 250.23 88.15 250.08 93.6 249.9 C99.05 249.72 105.13 249.35 108.2 249.2 C111.27 249.05 111.37 249.03 112 249" stroke="#ff1c1c" stroke-width="1.25" class="cv"/>
<path d="M56.5 230 C59.05 230.17 67.3 230.4 71.8 231 C76.3 231.6 80.35 232.52 83.5 233.6 C86.65 234.68 88.53 236.12 90.7 237.5 C92.87 238.88 94.55 240.43 96.5 241.9 C98.45 243.37 100.45 244.85 102.4 246.3 C104.35 247.75 106.52 249.22 108.2 250.6 C109.88 251.98 111.78 253.93 112.5 254.6" stroke="#2222fa" stroke-width="1.25" class="cv"/>
<path d="M62.9 230.2 C64.38 230.27 68.13 230.1 71.8 230.6 C75.47 231.1 81.27 231.92 84.9 233.2 C88.53 234.48 91.17 236.6 93.6 238.3 C96.03 240 97.55 241.83 99.5 243.4 C101.45 244.97 103.13 246.73 105.3 247.7 C107.47 248.67 110.08 249.03 112.5 249.2 C114.92 249.37 117.62 249.32 119.8 248.7 C121.98 248.08 124.02 247.15 125.6 245.5 C127.18 243.85 128.12 241.47 129.3 238.8 C130.48 236.13 131.65 233 132.7 229.5 C133.75 226 134.62 222.03 135.6 217.8 C136.58 213.57 137.62 208.67 138.6 204.1 C139.58 199.53 140.53 194.15 141.5 190.4 C142.47 186.65 143.42 183.72 144.4 181.6 C145.38 179.48 146.47 178.38 147.4 177.7 C148.33 177.02 149.57 177.53 150 177.5" stroke="#a81c9e" stroke-width="1.25" class="cv"/>
<circle cx="80.5" cy="227.4" r="1.55" class="ob"/>
<circle cx="86.4" cy="231.7" r="1.55" class="ob"/>
<circle cx="98" cy="236.8" r="1.55" class="ob"/>
<circle cx="100.9" cy="247.7" r="1.55" class="ob"/>
<circle cx="107.5" cy="252.5" r="1.55" class="ob"/>
<circle cx="114" cy="246.3" r="1.55" class="ob"/>
<circle cx="119.1" cy="244.8" r="1.55" class="ob"/>
<circle cx="123.9" cy="239.3" r="1.55" class="ob"/>
<circle cx="135.6" cy="227.5" r="1.55" class="ob"/>
<circle cx="139.5" cy="210" r="1.55" class="ob"/>
<circle cx="152.2" cy="178.3" r="1.55" class="ob"/>
<circle cx="159.1" cy="178.3" r="1.55" class="ob"/>
<circle cx="164.6" cy="177.7" r="1.55" class="ob"/>
<g transform="translate(182.8 158)">
<path d="M38.85 8.72 V113.35 H178.25" class="ax"/>
<path d="M38.85 113.02h3.2 M38.85 107.8h1.7 M38.85 102.59h1.7 M38.85 97.38h1.7 M38.85 92.16h3.2 M38.85 86.94h1.7 M38.85 81.73h1.7 M38.85 76.52h1.7 M38.85 71.3h3.2 M38.85 66.08h1.7 M38.85 60.87h1.7 M38.85 55.66h1.7 M38.85 50.44h3.2 M38.85 45.22h1.7 M38.85 40.01h1.7 M38.85 34.8h1.7 M38.85 29.58h3.2 M38.85 24.37h1.7 M38.85 19.15h1.7 M38.85 13.94h1.7 M38.85 8.72h3.2 M53.4 113.35v-1.7 M55.26 113.35v-1.7 M56.87 113.35v-1.7 M58.28 113.35v-1.7 M59.55 113.35v-3.2 M67.89 113.35v-1.7 M72.77 113.35v-1.7 M76.23 113.35v-1.7 M78.91 113.35v-1.7 M81.1 113.35v-1.7 M82.96 113.35v-1.7 M84.57 113.35v-1.7 M85.98 113.35v-1.7 M87.25 113.35v-3.2 M95.59 113.35v-1.7 M100.47 113.35v-1.7 M103.93 113.35v-1.7 M106.61 113.35v-1.7 M108.8 113.35v-1.7 M110.66 113.35v-1.7 M112.27 113.35v-1.7 M113.68 113.35v-1.7 M114.95 113.35v-3.2 M123.29 113.35v-1.7 M128.17 113.35v-1.7 M131.63 113.35v-1.7 M134.31 113.35v-1.7 M136.5 113.35v-1.7 M138.36 113.35v-1.7 M139.97 113.35v-1.7 M141.38 113.35v-1.7 M142.65 113.35v-3.2 M150.99 113.35v-1.7 M155.87 113.35v-1.7 M159.33 113.35v-1.7 M162.01 113.35v-1.7 M164.2 113.35v-1.7 M166.06 113.35v-1.7 M167.67 113.35v-1.7 M169.08 113.35v-1.7 M170.35 113.35v-3.2 M46.55 113.35v-2.4" class="tk"/>
<path d="M47.35 116.6 L49.25 110.2 M49.75 116.4 L51.75 110.2" class="brk"/>
<text x="35.1" y="116.42" class="tl" text-anchor="end">-80</text>
<text x="35.1" y="95.56" class="tl" text-anchor="end">-40</text>
<text x="35.1" y="74.7" class="tl" text-anchor="end">0</text>
<text x="35.1" y="53.84" class="tl" text-anchor="end">40</text>
<text x="35.1" y="32.98" class="tl" text-anchor="end">80</text>
<text x="35.1" y="12.12" class="tl" text-anchor="end">120</text>
<text x="46.65" y="125.5" class="tl" text-anchor="middle">0</text>
<text x="59.95" y="126.9" class="tl" text-anchor="middle">10<tspan class="sup" dy="-4.4">-7</tspan></text>
<text x="87.65" y="126.9" class="tl" text-anchor="middle">10<tspan class="sup" dy="-4.4">-6</tspan></text>
<text x="115.35" y="126.9" class="tl" text-anchor="middle">10<tspan class="sup" dy="-4.4">-5</tspan></text>
<text x="143.05" y="126.9" class="tl" text-anchor="middle">10<tspan class="sup" dy="-4.4">-4</tspan></text>
<text x="170.75" y="126.9" class="tl" text-anchor="middle">10<tspan class="sup" dy="-4.4">-3</tspan></text>
<text x="101" y="137" class="al" text-anchor="middle">Concentration (mol/L)</text>
<text transform="translate(16.1 62.1) rotate(-90)" class="al yl" text-anchor="middle">Inhibition (%)</text>
<text x="45.75" y="11.2" class="tt">M3</text>
<circle cx="50.45" cy="17.9" r="1.4" class="mk"/>
<text x="56.85" y="19.8" class="lg">Obs</text>
<path d="M45.35 25.17H55.55" stroke="#000" class="ln"/>
<text x="56.85" y="27.07" class="lg">BP Fit</text>
<path d="M45.35 32.44H55.55" class="ci"/>
<text x="56.85" y="34.34" class="lg">CI</text>
<rect x="49.15" y="38.41" width="2.6" height="2.6" class="mk"/>
<text x="56.85" y="41.61" class="lg">Blank</text>
<path d="M45.35 46.98H55.55" stroke="#ff1c1c" class="ln"/>
<text x="56.85" y="48.88" class="lg">CA-BPR</text>
<path d="M45.35 54.25H55.55" stroke="#2222fa" class="ln"/>
<text x="56.85" y="56.15" class="lg">CA-Hill</text>
<path d="M45.35 61.52H55.55" stroke="#a81c9e" class="ln"/>
<text x="56.85" y="63.42" class="lg">CA-BP</text>
<rect x="45.35" y="67.5" width="2.8" height="2.28" fill="#fff" class="bk"/>
<rect x="45.35" y="70.28" width="2.8" height="2.28" fill="#444" class="bk"/>
<rect x="45.35" y="73.05" width="2.8" height="2.28" fill="#fff" class="bk"/>
<rect x="45.35" y="75.83" width="2.8" height="2.28" fill="#fff" class="bk"/>
</g>
<path d="M263.2 229.2 C264.57 229.28 269.13 229.33 271.4 229.7 C273.67 230.07 275.35 230.58 276.8 231.4 C278.25 232.22 279.18 233.15 280.1 234.6 C281.02 236.05 281.58 238.47 282.3 240.1 C283.02 241.73 283.5 243.22 284.4 244.4 C285.3 245.58 286.23 246.55 287.7 247.2 C289.17 247.85 291.02 248.22 293.2 248.3 C295.38 248.38 298.45 247.98 300.8 247.7 C303.15 247.42 305.3 247.15 307.3 246.6 C309.3 246.05 311.43 245.25 312.8 244.4 C314.17 243.55 314.68 242.68 315.5 241.5 C316.32 240.32 317 239.3 317.7 237.3 C318.4 235.3 319.05 232.75 319.7 229.5 C320.35 226.25 320.95 222.03 321.6 217.8 C322.25 213.57 322.78 208.67 323.6 204.1 C324.42 199.53 325.53 194.32 326.5 190.4 C327.47 186.48 328.42 182.72 329.4 180.6 C330.38 178.48 329.47 178.22 332.4 177.7 C335.33 177.18 344.57 177.53 347 177.5" stroke="#000" stroke-width="1.3" class="cv"/>
<path d="M263.2 224.3 C264.38 224.2 268.03 223.43 270.3 223.7 C272.57 223.97 274.98 224.62 276.8 225.9 C278.62 227.18 279.93 229.58 281.2 231.4 C282.47 233.22 283.13 235.17 284.4 236.8 C285.67 238.43 286.98 240.38 288.8 241.2 C290.62 242.02 292.75 241.7 295.3 241.7 C297.85 241.7 301.37 241.47 304.1 241.2 C306.83 240.93 309.97 240.72 311.7 240.1 C313.43 239.48 313.67 238.62 314.5 237.5 C315.33 236.38 315.83 236.37 316.7 233.4 C317.57 230.43 318.72 224.92 319.7 219.7 C320.68 214.48 321.63 207.63 322.6 202.1 C323.57 196.57 324.52 191.05 325.5 186.5 C326.48 181.95 327.52 177.25 328.5 174.8 C329.48 172.35 328.32 172.3 331.4 171.8 C334.48 171.3 344.4 171.8 347 171.8" class="ci"/>
<path d="M263.4 234.6 C264.97 234.85 270.27 235.25 272.8 236.1 C275.33 236.95 276.9 238 278.6 239.7 C280.3 241.4 281.53 244.23 283 246.3 C284.47 248.37 285.7 250.77 287.4 252.1 C289.1 253.43 290.78 253.98 293.2 254.3 C295.62 254.62 299.28 254.55 301.9 254 C304.52 253.45 306.43 252.32 308.9 251 C311.37 249.68 314.9 248.38 316.7 246.1 C318.5 243.82 318.72 241.37 319.7 237.3 C320.68 233.23 321.63 227.23 322.6 221.7 C323.57 216.17 324.52 209.32 325.5 204.1 C326.48 198.88 327.52 193.82 328.5 190.4 C329.48 186.98 328.32 184.73 331.4 183.6 C334.48 182.47 344.4 183.6 347 183.6" class="ci"/>
<path d="M261.2 250.2 C264.1 250.15 273.75 250.07 278.6 249.9 C283.45 249.73 287.73 249.35 290.3 249.2 C292.87 249.05 293.38 249.03 294 249" stroke="#ff1c1c" stroke-width="1.25" class="cv"/>
<path d="M240.1 230 C242.88 230.17 252.32 230.47 256.8 231 C261.28 231.53 264.08 232.23 267 233.2 C269.92 234.17 272.12 235.47 274.3 236.8 C276.48 238.13 278.17 239.62 280.1 241.2 C282.03 242.78 283.97 244.73 285.9 246.3 C287.83 247.87 289.88 249.2 291.7 250.6 C293.52 252 295.95 254.02 296.8 254.7" stroke="#2222fa" stroke-width="1.25" class="cv"/>
<path d="M248 230.1 C249.47 230.15 253.15 229.88 256.8 230.4 C260.45 230.92 266.5 232.02 269.9 233.2 C273.3 234.38 275.02 235.8 277.2 237.5 C279.38 239.2 281.07 241.7 283 243.4 C284.93 245.1 286.62 246.82 288.8 247.7 C290.98 248.58 293.67 248.7 296.1 248.7 C298.53 248.7 301.22 248.35 303.4 247.7 C305.58 247.05 307.52 246.17 309.2 244.8 C310.88 243.43 312.25 242.05 313.5 239.5 C314.75 236.95 315.67 233.12 316.7 229.5 C317.73 225.88 318.72 222.03 319.7 217.8 C320.68 213.57 321.63 208.67 322.6 204.1 C323.57 199.53 324.52 194.32 325.5 190.4 C326.48 186.48 327.52 182.78 328.5 180.6 C329.48 178.42 330.48 177.88 331.4 177.3 C332.32 176.72 333.57 177.13 334 177.1" stroke="#a81c9e" stroke-width="1.25" class="cv"/>
<circle cx="263.4" cy="225.2" r="1.55" class="ob"/>
<circle cx="269.9" cy="228.8" r="1.55" class="ob"/>
<circle cx="274.3" cy="232.5" r="1.55" class="ob"/>
<circle cx="281.5" cy="244.8" r="1.55" class="ob"/>
<circle cx="296.1" cy="249.2" r="1.55" class="ob"/>
<circle cx="301.2" cy="248.5" r="1.55" class="ob"/>
<circle cx="306.3" cy="247.7" r="1.55" class="ob"/>
<circle cx="313.5" cy="240.5" r="1.55" class="ob"/>
<circle cx="319.5" cy="227" r="1.55" class="ob"/>
<circle cx="322" cy="210" r="1.55" class="ob"/>
<circle cx="336" cy="177.5" r="1.55" class="ob"/>
<circle cx="341" cy="177.5" r="1.55" class="ob"/>
<circle cx="346" cy="177.3" r="1.55" class="ob"/>
<g transform="translate(365.5 158)">
<path d="M38.85 8.72 V113.35 H178.25" class="ax"/>
<path d="M38.85 113.02h3.2 M38.85 107.8h1.7 M38.85 102.59h1.7 M38.85 97.38h1.7 M38.85 92.16h3.2 M38.85 86.94h1.7 M38.85 81.73h1.7 M38.85 76.52h1.7 M38.85 71.3h3.2 M38.85 66.08h1.7 M38.85 60.87h1.7 M38.85 55.66h1.7 M38.85 50.44h3.2 M38.85 45.22h1.7 M38.85 40.01h1.7 M38.85 34.8h1.7 M38.85 29.58h3.2 M38.85 24.37h1.7 M38.85 19.15h1.7 M38.85 13.94h1.7 M38.85 8.72h3.2 M53.4 113.35v-1.7 M55.26 113.35v-1.7 M56.87 113.35v-1.7 M58.28 113.35v-1.7 M59.55 113.35v-3.2 M67.89 113.35v-1.7 M72.77 113.35v-1.7 M76.23 113.35v-1.7 M78.91 113.35v-1.7 M81.1 113.35v-1.7 M82.96 113.35v-1.7 M84.57 113.35v-1.7 M85.98 113.35v-1.7 M87.25 113.35v-3.2 M95.59 113.35v-1.7 M100.47 113.35v-1.7 M103.93 113.35v-1.7 M106.61 113.35v-1.7 M108.8 113.35v-1.7 M110.66 113.35v-1.7 M112.27 113.35v-1.7 M113.68 113.35v-1.7 M114.95 113.35v-3.2 M123.29 113.35v-1.7 M128.17 113.35v-1.7 M131.63 113.35v-1.7 M134.31 113.35v-1.7 M136.5 113.35v-1.7 M138.36 113.35v-1.7 M139.97 113.35v-1.7 M141.38 113.35v-1.7 M142.65 113.35v-3.2 M150.99 113.35v-1.7 M155.87 113.35v-1.7 M159.33 113.35v-1.7 M162.01 113.35v-1.7 M164.2 113.35v-1.7 M166.06 113.35v-1.7 M167.67 113.35v-1.7 M169.08 113.35v-1.7 M170.35 113.35v-3.2 M46.55 113.35v-2.4" class="tk"/>
<path d="M47.35 116.6 L49.25 110.2 M49.75 116.4 L51.75 110.2" class="brk"/>
<text x="35.1" y="116.42" class="tl" text-anchor="end">-80</text>
<text x="35.1" y="95.56" class="tl" text-anchor="end">-40</text>
<text x="35.1" y="74.7" class="tl" text-anchor="end">0</text>
<text x="35.1" y="53.84" class="tl" text-anchor="end">40</text>
<text x="35.1" y="32.98" class="tl" text-anchor="end">80</text>
<text x="35.1" y="12.12" class="tl" text-anchor="end">120</text>
<text x="46.65" y="125.5" class="tl" text-anchor="middle">0</text>
<text x="59.95" y="126.9" class="tl" text-anchor="middle">10<tspan class="sup" dy="-4.4">-7</tspan></text>
<text x="87.65" y="126.9" class="tl" text-anchor="middle">10<tspan class="sup" dy="-4.4">-6</tspan></text>
<text x="115.35" y="126.9" class="tl" text-anchor="middle">10<tspan class="sup" dy="-4.4">-5</tspan></text>
<text x="143.05" y="126.9" class="tl" text-anchor="middle">10<tspan class="sup" dy="-4.4">-4</tspan></text>
<text x="170.75" y="126.9" class="tl" text-anchor="middle">10<tspan class="sup" dy="-4.4">-3</tspan></text>
<text x="101" y="137" class="al" text-anchor="middle">Concentration (mol/L)</text>
<text transform="translate(16.1 62.1) rotate(-90)" class="al yl" text-anchor="middle">Inhibition (%)</text>
<text x="45.75" y="11.2" class="tt">M4</text>
<circle cx="50.8" cy="18.2" r="1.4" class="mk"/>
<text x="57.15" y="20.1" class="lg">Obs</text>
<path d="M45.65 25.5H55.95" stroke="#000" class="ln"/>
<text x="57.15" y="27.4" class="lg">BP Fit</text>
<path d="M45.65 32.8H55.95" class="ci"/>
<text x="57.15" y="34.7" class="lg">CI</text>
<rect x="49.5" y="38.8" width="2.6" height="2.6" class="mk"/>
<text x="57.15" y="42" class="lg">Blank</text>
<path d="M45.65 47.4H55.95" stroke="#ff1c1c" class="ln"/>
<text x="57.15" y="49.3" class="lg">CA-BPR</text>
<path d="M45.65 54.7H55.95" stroke="#2222fa" class="ln"/>
<text x="57.15" y="56.6" class="lg">CA-Hill</text>
<path d="M45.65 62H55.95" stroke="#a81c9e" class="ln"/>
<text x="57.15" y="63.9" class="lg">CA-BP</text>
<rect x="45.35" y="66.9" width="2.8" height="2.35" fill="#fff" class="bk"/>
<rect x="45.35" y="69.75" width="2.8" height="2.35" fill="#444" class="bk"/>
<rect x="45.35" y="72.6" width="2.8" height="2.35" fill="#fff" class="bk"/>
<rect x="45.35" y="75.45" width="2.8" height="2.35" fill="#fff" class="bk"/>
</g>
<path d="M445.6 225.9 C447.07 226.15 451.97 226.8 454.4 227.4 C456.83 228 458.52 228.17 460.2 229.5 C461.88 230.83 463.28 232.97 464.5 235.4 C465.72 237.83 466.28 242.05 467.5 244.1 C468.72 246.15 469.87 247.02 471.8 247.7 C473.73 248.38 476.43 248.32 479.1 248.2 C481.77 248.08 485.68 247.53 487.8 247 C489.92 246.47 490.47 245.75 491.8 245 C493.13 244.25 494.58 243.42 495.8 242.5 C497.02 241.58 497.92 241.37 499.1 239.5 C500.28 237.63 501.75 234.43 502.9 231.3 C504.05 228.17 505.1 224.25 506 220.7 C506.9 217.15 507.55 213.55 508.3 210 C509.05 206.45 509.75 202.7 510.5 199.4 C511.25 196.1 512.03 192.87 512.8 190.2 C513.57 187.53 514.2 185.17 515.1 183.4 C516 181.63 516.8 180.58 518.2 179.6 C519.6 178.62 521.37 177.83 523.5 177.5 C525.63 177.17 529.75 177.58 531 177.6" stroke="#000" stroke-width="1.3" class="cv"/>
<path d="M445.6 224.5 C447.3 224.5 453.13 224.02 455.8 224.5 C458.47 224.98 459.9 225.35 461.6 227.4 C463.3 229.45 464.53 234.13 466 236.8 C467.47 239.47 468.22 242.18 470.4 243.4 C472.58 244.62 476.2 244.1 479.1 244.1 C482 244.1 485.48 243.92 487.8 243.4 C490.12 242.88 491.33 242.07 493 241 C494.67 239.93 496.37 238.83 497.8 237 C499.23 235.17 500.45 232.83 501.6 230 C502.75 227.17 503.8 223.33 504.7 220 C505.6 216.67 506.25 213.43 507 210 C507.75 206.57 508.45 202.73 509.2 199.4 C509.95 196.07 510.73 192.73 511.5 190 C512.27 187.27 512.97 185 513.8 183 C514.63 181 515.63 179.25 516.5 178 C517.37 176.75 517.92 176.08 519 175.5 C520.08 174.92 521.33 174.78 523 174.5 C524.67 174.22 528 173.92 529 173.8" class="ci"/>
<path d="M445.6 226.6 C447.3 227.22 453.13 229.08 455.8 230.3 C458.47 231.52 459.9 231.37 461.6 233.9 C463.3 236.43 464.53 242.72 466 245.5 C467.47 248.28 468.22 249.62 470.4 250.6 C472.58 251.58 476.2 251.52 479.1 251.4 C482 251.28 485.48 250.55 487.8 249.9 C490.12 249.25 491.38 248.4 493 247.5 C494.62 246.6 496.27 245.5 497.5 244.5 C498.73 243.5 499.28 243.5 500.4 241.5 C501.52 239.5 503.05 235.83 504.2 232.5 C505.35 229.17 506.4 225.17 507.3 221.5 C508.2 217.83 508.85 214.08 509.6 210.5 C510.35 206.92 511.05 203.25 511.8 200 C512.55 196.75 513.33 193.5 514.1 191 C514.87 188.5 515.5 186.58 516.4 185 C517.3 183.42 518.4 182.25 519.5 181.5 C520.6 180.75 521.42 180.8 523 180.5 C524.58 180.2 528 179.83 529 179.7" class="ci"/>
<path d="M447.1 250.3 C449.52 250.23 457.23 250.08 461.6 249.9 C465.97 249.72 470.73 249.35 473.3 249.2 C475.87 249.05 476.38 249.03 477 249" stroke="#ff1c1c" stroke-width="1.25" class="cv"/>
<path d="M423.8 230 C426.47 230.17 435.43 230.47 439.8 231 C444.17 231.53 447.08 232.23 450 233.2 C452.92 234.17 455.12 235.47 457.3 236.8 C459.48 238.13 461.17 239.75 463.1 241.2 C465.03 242.65 466.97 244.05 468.9 245.5 C470.83 246.95 472.77 248.32 474.7 249.9 C476.63 251.48 479.53 254.15 480.5 255" stroke="#2222fa" stroke-width="1.25" class="cv"/>
<path d="M432.4 230.1 C433.63 230.13 436.38 229.87 439.8 230.3 C443.22 230.73 449.5 231.62 452.9 232.7 C456.3 233.78 458.02 235.15 460.2 236.8 C462.38 238.45 464.07 240.85 466 242.6 C467.93 244.35 469.62 246.32 471.8 247.3 C473.98 248.28 476.67 248.63 479.1 248.5 C481.53 248.37 484.5 247.33 486.4 246.5 C488.3 245.67 488.88 244.77 490.5 243.5 C492.12 242.23 494.4 241.18 496.1 238.9 C497.8 236.62 499.3 233.35 500.7 229.8 C502.1 226.25 503.37 221.67 504.5 217.6 C505.63 213.53 506.62 209.2 507.5 205.4 C508.38 201.6 509.03 197.97 509.8 194.8 C510.57 191.63 511.33 188.82 512.1 186.4 C512.87 183.98 513.52 181.82 514.4 180.3 C515.28 178.78 516.43 177.9 517.4 177.3 C518.37 176.7 519.73 176.8 520.2 176.7" stroke="#a81c9e" stroke-width="1.25" class="cv"/>
<circle cx="446.4" cy="225.2" r="1.55" class="ob"/>
<circle cx="453.6" cy="228.1" r="1.55" class="ob"/>
<circle cx="461.6" cy="229.5" r="1.55" class="ob"/>
<circle cx="467.5" cy="245.5" r="1.55" class="ob"/>
<circle cx="471.8" cy="249.9" r="1.55" class="ob"/>
<circle cx="501" cy="236" r="1.55" class="ob"/>
<circle cx="505" cy="224" r="1.55" class="ob"/>
<circle cx="509" cy="205" r="1.55" class="ob"/>
<circle cx="522" cy="177.5" r="1.55" class="ob"/>
<circle cx="527" cy="177.5" r="1.55" class="ob"/>
<circle cx="531" cy="177.5" r="1.55" class="ob"/>
<g transform="translate(0 316.7)">
<path d="M38.85 8.72 V113.35 H178.25" class="ax"/>
<path d="M38.85 113.02h3.2 M38.85 107.8h1.7 M38.85 102.59h1.7 M38.85 97.38h1.7 M38.85 92.16h3.2 M38.85 86.94h1.7 M38.85 81.73h1.7 M38.85 76.52h1.7 M38.85 71.3h3.2 M38.85 66.08h1.7 M38.85 60.87h1.7 M38.85 55.66h1.7 M38.85 50.44h3.2 M38.85 45.22h1.7 M38.85 40.01h1.7 M38.85 34.8h1.7 M38.85 29.58h3.2 M38.85 24.37h1.7 M38.85 19.15h1.7 M38.85 13.94h1.7 M38.85 8.72h3.2 M53.4 113.35v-1.7 M55.26 113.35v-1.7 M56.87 113.35v-1.7 M58.28 113.35v-1.7 M59.55 113.35v-3.2 M67.89 113.35v-1.7 M72.77 113.35v-1.7 M76.23 113.35v-1.7 M78.91 113.35v-1.7 M81.1 113.35v-1.7 M82.96 113.35v-1.7 M84.57 113.35v-1.7 M85.98 113.35v-1.7 M87.25 113.35v-3.2 M95.59 113.35v-1.7 M100.47 113.35v-1.7 M103.93 113.35v-1.7 M106.61 113.35v-1.7 M108.8 113.35v-1.7 M110.66 113.35v-1.7 M112.27 113.35v-1.7 M113.68 113.35v-1.7 M114.95 113.35v-3.2 M123.29 113.35v-1.7 M128.17 113.35v-1.7 M131.63 113.35v-1.7 M134.31 113.35v-1.7 M136.5 113.35v-1.7 M138.36 113.35v-1.7 M139.97 113.35v-1.7 M141.38 113.35v-1.7 M142.65 113.35v-3.2 M150.99 113.35v-1.7 M155.87 113.35v-1.7 M159.33 113.35v-1.7 M162.01 113.35v-1.7 M164.2 113.35v-1.7 M166.06 113.35v-1.7 M167.67 113.35v-1.7 M169.08 113.35v-1.7 M170.35 113.35v-3.2 M46.55 113.35v-2.4" class="tk"/>
<path d="M47.35 116.6 L49.25 110.2 M49.75 116.4 L51.75 110.2" class="brk"/>
<text x="35.1" y="116.42" class="tl" text-anchor="end">-80</text>
<text x="35.1" y="95.56" class="tl" text-anchor="end">-40</text>
<text x="35.1" y="74.7" class="tl" text-anchor="end">0</text>
<text x="35.1" y="53.84" class="tl" text-anchor="end">40</text>
<text x="35.1" y="32.98" class="tl" text-anchor="end">80</text>
<text x="35.1" y="12.12" class="tl" text-anchor="end">120</text>
<text x="46.65" y="125.5" class="tl" text-anchor="middle">0</text>
<text x="59.95" y="126.9" class="tl" text-anchor="middle">10<tspan class="sup" dy="-4.4">-7</tspan></text>
<text x="87.65" y="126.9" class="tl" text-anchor="middle">10<tspan class="sup" dy="-4.4">-6</tspan></text>
<text x="115.35" y="126.9" class="tl" text-anchor="middle">10<tspan class="sup" dy="-4.4">-5</tspan></text>
<text x="143.05" y="126.9" class="tl" text-anchor="middle">10<tspan class="sup" dy="-4.4">-4</tspan></text>
<text x="170.75" y="126.9" class="tl" text-anchor="middle">10<tspan class="sup" dy="-4.4">-3</tspan></text>
<text x="101" y="137" class="al" text-anchor="middle">Concentration (mol/L)</text>
<text transform="translate(16.1 62.1) rotate(-90)" class="al yl" text-anchor="middle">Inhibition (%)</text>
<text x="45.75" y="11.2" class="tt">M5</text>
<circle cx="49.6" cy="16" r="1.4" class="mk"/>
<text x="55.95" y="17.9" class="lg">Obs</text>
<path d="M44.15 23.35H55.05" stroke="#000" class="ln"/>
<text x="55.95" y="25.25" class="lg">BP Fit</text>
<path d="M44.15 30.7H55.05" class="ci"/>
<text x="55.95" y="32.6" class="lg">CI</text>
<rect x="48.3" y="36.75" width="2.6" height="2.6" class="mk"/>
<text x="55.95" y="39.95" class="lg">Blank</text>
<path d="M44.15 45.4H55.05" stroke="#ff1c1c" class="ln"/>
<text x="55.95" y="47.3" class="lg">CA-BPR</text>
<path d="M44.15 52.75H55.05" stroke="#2222fa" class="ln"/>
<text x="55.95" y="54.65" class="lg">CA-Hill</text>
<path d="M44.15 60.1H55.05" stroke="#a81c9e" class="ln"/>
<text x="55.95" y="62" class="lg">CA-BP</text>
<rect x="45.35" y="66.8" width="2.8" height="2.3" fill="#fff" class="bk"/>
<rect x="45.35" y="69.6" width="2.8" height="2.3" fill="#444" class="bk"/>
<rect x="45.35" y="72.4" width="2.8" height="2.3" fill="#fff" class="bk"/>
</g>
<path d="M68.2 383.8 C70.02 383.75 75.58 383.38 79.1 383.5 C82.62 383.62 86.15 383.97 89.3 384.5 C92.45 385.03 95.58 385.72 98 386.7 C100.42 387.68 102.1 388.82 103.8 390.4 C105.5 391.98 106.75 394.02 108.2 396.2 C109.65 398.38 111.05 401.68 112.5 403.5 C113.95 405.32 115.2 406.75 116.9 407.1 C118.6 407.45 121.18 406.12 122.7 405.6 C124.22 405.08 124.72 404.73 126 404 C127.28 403.27 129.07 402.2 130.4 401.2 C131.73 400.2 132.83 399.17 134 398 C135.17 396.83 136.27 396.27 137.4 394.2 C138.53 392.13 139.65 389.07 140.8 385.6 C141.95 382.13 143.13 377.75 144.3 373.4 C145.47 369.05 146.63 363.55 147.8 359.5 C148.97 355.45 150.15 352.13 151.3 349.1 C152.45 346.07 153.55 343.18 154.7 341.3 C155.85 339.42 156.75 338.67 158.2 337.8 C159.65 336.93 162.27 336.42 163.4 336.1 C164.53 335.78 164.73 335.93 165 335.9" stroke="#000" stroke-width="1.3" class="cv"/>
<path d="M71.8 379.5 C73.5 379.62 78.37 379.97 82 380.2 C85.63 380.43 90.2 380.3 93.6 380.9 C97 381.5 99.97 382.47 102.4 383.8 C104.83 385.13 106.27 386.6 108.2 388.9 C110.13 391.2 112.07 395.42 114 397.6 C115.93 399.78 118.13 401.18 119.8 402 C121.47 402.82 122.47 402.92 124 402.5 C125.53 402.08 127.57 400.5 129 399.5 C130.43 398.5 131.43 397.67 132.6 396.5 C133.77 395.33 134.87 394.58 136 392.5 C137.13 390.42 138.25 387.45 139.4 384 C140.55 380.55 141.73 376.13 142.9 371.8 C144.07 367.47 145.23 362.05 146.4 358 C147.57 353.95 148.75 350.58 149.9 347.5 C151.05 344.42 152.12 341.75 153.3 339.5 C154.48 337.25 155.57 335.28 157 334 C158.43 332.72 161.08 332.17 161.9 331.8" class="ci"/>
<path d="M68.9 388.2 C71.08 388.2 78.12 388.08 82 388.2 C85.88 388.32 89.05 388.3 92.2 388.9 C95.35 389.5 98.48 390.47 100.9 391.8 C103.32 393.13 105 394.95 106.7 396.9 C108.4 398.85 109.63 401.57 111.1 403.5 C112.57 405.43 113.8 407.17 115.5 408.5 C117.2 409.83 119.37 411.25 121.3 411.5 C123.23 411.75 125.48 410.92 127.1 410 C128.72 409.08 129.77 407.25 131 406 C132.23 404.75 133.2 404.08 134.5 402.5 C135.8 400.92 137.52 399 138.8 396.5 C140.08 394 141.05 391.05 142.2 387.5 C143.35 383.95 144.53 379.53 145.7 375.2 C146.87 370.87 148.03 365.53 149.2 361.5 C150.37 357.47 151.57 353.92 152.7 351 C153.83 348.08 154.87 345.83 156 344 C157.13 342.17 158.35 340.88 159.5 340 C160.65 339.12 162.33 338.92 162.9 338.7" class="ci"/>
<path d="M84.2 408.5 C86.25 408.43 92.5 408.27 96.5 408.1 C100.5 407.93 105.62 407.63 108.2 407.5 C110.78 407.37 111.37 407.33 112 407.3" stroke="#ff1c1c" stroke-width="1.25" class="cv"/>
<path d="M58.7 388.2 C61.37 388.37 70.33 388.72 74.7 389.2 C79.07 389.68 81.75 390.05 84.9 391.1 C88.05 392.15 90.93 393.93 93.6 395.5 C96.27 397.07 98.47 398.57 100.9 400.5 C103.33 402.43 105.77 404.97 108.2 407.1 C110.63 409.23 114.28 412.27 115.5 413.3" stroke="#2222fa" stroke-width="1.25" class="cv"/>
<path d="M68.9 388.5 C70.6 388.57 75.95 388.47 79.1 388.9 C82.25 389.33 85.13 390 87.8 391.1 C90.47 392.2 92.67 393.8 95.1 395.5 C97.53 397.2 99.98 399.37 102.4 401.3 C104.82 403.23 107.42 405.97 109.6 407.1 C111.78 408.23 113.77 408.47 115.5 408.1 C117.23 407.73 118.45 405.83 120 404.9 C121.55 403.97 123.35 403.42 124.8 402.5 C126.25 401.58 127.18 401.07 128.7 399.4 C130.22 397.73 132.45 395.1 133.9 392.5 C135.35 389.9 136.25 387.27 137.4 383.8 C138.55 380.33 139.65 376.03 140.8 371.7 C141.95 367.37 143.13 362.15 144.3 357.8 C145.47 353.45 146.63 348.78 147.8 345.6 C148.97 342.42 150.15 340.28 151.3 338.7 C152.45 337.12 154.13 336.53 154.7 336.1" stroke="#a81c9e" stroke-width="1.25" class="cv"/>
<circle cx="68.2" cy="383.8" r="1.55" class="ob"/>
<circle cx="80.5" cy="381.9" r="1.55" class="ob"/>
<circle cx="86.4" cy="383.8" r="1.55" class="ob"/>
<circle cx="92.2" cy="385.3" r="1.55" class="ob"/>
<circle cx="97.3" cy="388.9" r="1.55" class="ob"/>
<circle cx="102.4" cy="390.4" r="1.55" class="ob"/>
<circle cx="108.9" cy="392.5" r="1.55" class="ob"/>
<circle cx="112.5" cy="404.9" r="1.55" class="ob"/>
<circle cx="122.7" cy="405.6" r="1.55" class="ob"/>
<circle cx="134" cy="398" r="1.55" class="ob"/>
<circle cx="141" cy="385" r="1.55" class="ob"/>
<circle cx="145.5" cy="368" r="1.55" class="ob"/>
<circle cx="163.9" cy="336" r="1.55" class="ob"/>
<g transform="translate(182.8 316.7)">
<path d="M38.85 8.72 V113.35 H178.25" class="ax"/>
<path d="M38.85 113.02h3.2 M38.85 107.8h1.7 M38.85 102.59h1.7 M38.85 97.38h1.7 M38.85 92.16h3.2 M38.85 86.94h1.7 M38.85 81.73h1.7 M38.85 76.52h1.7 M38.85 71.3h3.2 M38.85 66.08h1.7 M38.85 60.87h1.7 M38.85 55.66h1.7 M38.85 50.44h3.2 M38.85 45.22h1.7 M38.85 40.01h1.7 M38.85 34.8h1.7 M38.85 29.58h3.2 M38.85 24.37h1.7 M38.85 19.15h1.7 M38.85 13.94h1.7 M38.85 8.72h3.2 M53.4 113.35v-1.7 M55.26 113.35v-1.7 M56.87 113.35v-1.7 M58.28 113.35v-1.7 M59.55 113.35v-3.2 M67.89 113.35v-1.7 M72.77 113.35v-1.7 M76.23 113.35v-1.7 M78.91 113.35v-1.7 M81.1 113.35v-1.7 M82.96 113.35v-1.7 M84.57 113.35v-1.7 M85.98 113.35v-1.7 M87.25 113.35v-3.2 M95.59 113.35v-1.7 M100.47 113.35v-1.7 M103.93 113.35v-1.7 M106.61 113.35v-1.7 M108.8 113.35v-1.7 M110.66 113.35v-1.7 M112.27 113.35v-1.7 M113.68 113.35v-1.7 M114.95 113.35v-3.2 M123.29 113.35v-1.7 M128.17 113.35v-1.7 M131.63 113.35v-1.7 M134.31 113.35v-1.7 M136.5 113.35v-1.7 M138.36 113.35v-1.7 M139.97 113.35v-1.7 M141.38 113.35v-1.7 M142.65 113.35v-3.2 M150.99 113.35v-1.7 M155.87 113.35v-1.7 M159.33 113.35v-1.7 M162.01 113.35v-1.7 M164.2 113.35v-1.7 M166.06 113.35v-1.7 M167.67 113.35v-1.7 M169.08 113.35v-1.7 M170.35 113.35v-3.2 M46.55 113.35v-2.4" class="tk"/>
<path d="M47.35 116.6 L49.25 110.2 M49.75 116.4 L51.75 110.2" class="brk"/>
<text x="35.1" y="116.42" class="tl" text-anchor="end">-80</text>
<text x="35.1" y="95.56" class="tl" text-anchor="end">-40</text>
<text x="35.1" y="74.7" class="tl" text-anchor="end">0</text>
<text x="35.1" y="53.84" class="tl" text-anchor="end">40</text>
<text x="35.1" y="32.98" class="tl" text-anchor="end">80</text>
<text x="35.1" y="12.12" class="tl" text-anchor="end">120</text>
<text x="46.65" y="125.5" class="tl" text-anchor="middle">0</text>
<text x="59.95" y="126.9" class="tl" text-anchor="middle">10<tspan class="sup" dy="-4.4">-7</tspan></text>
<text x="87.65" y="126.9" class="tl" text-anchor="middle">10<tspan class="sup" dy="-4.4">-6</tspan></text>
<text x="115.35" y="126.9" class="tl" text-anchor="middle">10<tspan class="sup" dy="-4.4">-5</tspan></text>
<text x="143.05" y="126.9" class="tl" text-anchor="middle">10<tspan class="sup" dy="-4.4">-4</tspan></text>
<text x="170.75" y="126.9" class="tl" text-anchor="middle">10<tspan class="sup" dy="-4.4">-3</tspan></text>
<text x="101" y="137" class="al" text-anchor="middle">Concentration (mol/L)</text>
<text transform="translate(16.1 62.1) rotate(-90)" class="al yl" text-anchor="middle">Inhibition (%)</text>
<text x="45.75" y="11.2" class="tt">M6</text>
<circle cx="48.8" cy="15.7" r="1.4" class="mk"/>
<text x="55.55" y="17.6" class="lg">Obs</text>
<path d="M43.25 22.97H54.35" stroke="#000" class="ln"/>
<text x="55.55" y="24.87" class="lg">BP Fit</text>
<path d="M43.25 30.24H54.35" class="ci"/>
<text x="55.55" y="32.14" class="lg">CI</text>
<rect x="47.5" y="36.21" width="2.6" height="2.6" class="mk"/>
<text x="55.55" y="39.41" class="lg">Blank</text>
<path d="M43.25 44.78H54.35" stroke="#ff1c1c" class="ln"/>
<text x="55.55" y="46.68" class="lg">CA-BPR</text>
<path d="M43.25 52.05H54.35" stroke="#2222fa" class="ln"/>
<text x="55.55" y="53.95" class="lg">CA-Hill</text>
<path d="M43.25 59.32H54.35" stroke="#a81c9e" class="ln"/>
<text x="55.55" y="61.22" class="lg">CA-BP</text>
<rect x="45.35" y="67.7" width="2.8" height="2.23" fill="#fff" class="bk"/>
<rect x="45.35" y="70.43" width="2.8" height="2.23" fill="#444" class="bk"/>
<rect x="45.35" y="73.17" width="2.8" height="2.23" fill="#fff" class="bk"/>
</g>
<path d="M251.7 381.4 C253.77 381.58 260.82 381.97 264.1 382.5 C267.38 383.03 268.98 383.27 271.4 384.6 C273.82 385.93 276.18 388.43 278.6 390.5 C281.02 392.57 283.47 395.07 285.9 397 C288.33 398.93 291.02 400.93 293.2 402.1 C295.38 403.27 297.28 403.75 299 404 C300.72 404.25 302.03 404.13 303.5 403.6 C304.97 403.07 305.78 402 307.8 400.8 C309.82 399.6 312.98 397.93 315.6 396.4 C318.22 394.87 321.53 393.55 323.5 391.6 C325.47 389.65 326.1 387.15 327.4 384.7 C328.7 382.25 330 379.83 331.3 376.9 C332.6 373.97 333.9 370.35 335.2 367.1 C336.5 363.85 337.8 360.48 339.1 357.4 C340.4 354.32 341.7 351.22 343 348.6 C344.3 345.98 346.07 343.22 346.9 341.7 C347.73 340.18 347.82 339.87 348 339.5" stroke="#000" stroke-width="1.3" class="cv"/>
<path d="M258.3 375.2 C260 375.57 265.35 376.32 268.5 377.4 C271.65 378.48 274.53 380.13 277.2 381.7 C279.87 383.27 282.22 384.75 284.5 386.8 C286.78 388.85 288.92 392.48 290.9 394 C292.88 395.52 294.43 395.65 296.4 395.9 C298.37 396.15 300.73 395.88 302.7 395.5 C304.67 395.12 306.38 394.43 308.2 393.6 C310.02 392.77 311.78 391.55 313.6 390.5 C315.42 389.45 317.43 388.45 319.1 387.3 C320.77 386.15 322.18 385.33 323.6 383.6 C325.02 381.87 326.17 379.65 327.6 376.9 C329.03 374.15 330.62 370.68 332.2 367.1 C333.78 363.52 335.47 359.3 337.1 355.4 C338.73 351.5 340.53 347.12 342 343.7 C343.47 340.28 345.25 336.37 345.9 334.9" class="ci"/>
<path d="M251.7 389.4 C253.77 389.82 260.58 390.88 264.1 391.9 C267.62 392.92 269.9 393.8 272.8 395.5 C275.7 397.2 278.83 400.15 281.5 402.1 C284.17 404.05 286.37 405.63 288.8 407.2 C291.23 408.77 293.67 410.65 296.1 411.5 C298.53 412.35 300.8 412.85 303.4 412.3 C306 411.75 308.68 409.87 311.7 408.2 C314.72 406.53 318.88 404.58 321.5 402.3 C324.12 400.02 325.62 397.43 327.4 394.5 C329.18 391.57 330.58 388.28 332.2 384.7 C333.82 381.12 335.47 376.9 337.1 373 C338.73 369.1 340.37 364.88 342 361.3 C343.63 357.72 346.08 353.13 346.9 351.5" class="ci"/>
<path d="M272.1 408.3 C274.4 408.23 281.67 408.03 285.9 407.9 C290.13 407.77 295.15 407.6 297.5 407.5 C299.85 407.4 299.58 407.33 300 407.3" stroke="#ff1c1c" stroke-width="1.25" class="cv"/>
<path d="M242.3 388.3 C244.72 388.48 252.43 388.8 256.8 389.4 C261.17 390 265.1 390.75 268.5 391.9 C271.9 393.05 274.53 394.72 277.2 396.3 C279.87 397.88 282.08 399.58 284.5 401.4 C286.92 403.22 289.28 405.27 291.7 407.2 C294.12 409.13 297.78 412.03 299 413" stroke="#2222fa" stroke-width="1.25" class="cv"/>
<path d="M256.8 388.3 C258.75 388.67 265.1 389.42 268.5 390.5 C271.9 391.58 274.53 393.23 277.2 394.8 C279.87 396.37 282.08 398.2 284.5 399.9 C286.92 401.6 289.28 403.75 291.7 405 C294.12 406.25 296.95 407.23 299 407.4 C301.05 407.57 302.2 406.85 304 406 C305.8 405.15 308.22 403.63 309.8 402.3 C311.38 400.97 312.2 399.63 313.5 398 C314.8 396.37 315.93 395.2 317.6 392.5 C319.27 389.8 321.87 385.38 323.5 381.8 C325.13 378.22 326.1 374.92 327.4 371 C328.7 367.08 330 362.53 331.3 358.3 C332.6 354.07 334.07 348.85 335.2 345.6 C336.33 342.35 336.97 340.42 338.1 338.8 C339.23 337.18 341.35 336.38 342 335.9" stroke="#a81c9e" stroke-width="1.25" class="cv"/>
<circle cx="251.7" cy="383.9" r="1.55" class="ob"/>
<circle cx="257.5" cy="383.9" r="1.55" class="ob"/>
<circle cx="263.4" cy="384.6" r="1.55" class="ob"/>
<circle cx="269.2" cy="383.6" r="1.55" class="ob"/>
<circle cx="274.3" cy="384.6" r="1.55" class="ob"/>
<circle cx="280.1" cy="386.8" r="1.55" class="ob"/>
<circle cx="284.5" cy="399.5" r="1.55" class="ob"/>
<circle cx="289.5" cy="405.7" r="1.55" class="ob"/>
<circle cx="301.2" cy="402.8" r="1.55" class="ob"/>
<circle cx="306.8" cy="400.7" r="1.55" class="ob"/>
<circle cx="323.5" cy="389.6" r="1.55" class="ob"/>
<circle cx="329.3" cy="380.8" r="1.55" class="ob"/>
<circle cx="335.2" cy="371" r="1.55" class="ob"/>
<circle cx="341" cy="354.4" r="1.55" class="ob"/>
<circle cx="346.9" cy="341.7" r="1.55" class="ob"/>
<g transform="translate(365.5 316.7)">
<path d="M38.85 8.72 V113.35 H178.25" class="ax"/>
<path d="M38.85 113.02h3.2 M38.85 107.8h1.7 M38.85 102.59h1.7 M38.85 97.38h1.7 M38.85 92.16h3.2 M38.85 86.94h1.7 M38.85 81.73h1.7 M38.85 76.52h1.7 M38.85 71.3h3.2 M38.85 66.08h1.7 M38.85 60.87h1.7 M38.85 55.66h1.7 M38.85 50.44h3.2 M38.85 45.22h1.7 M38.85 40.01h1.7 M38.85 34.8h1.7 M38.85 29.58h3.2 M38.85 24.37h1.7 M38.85 19.15h1.7 M38.85 13.94h1.7 M38.85 8.72h3.2 M53.4 113.35v-1.7 M55.26 113.35v-1.7 M56.87 113.35v-1.7 M58.28 113.35v-1.7 M59.55 113.35v-3.2 M67.89 113.35v-1.7 M72.77 113.35v-1.7 M76.23 113.35v-1.7 M78.91 113.35v-1.7 M81.1 113.35v-1.7 M82.96 113.35v-1.7 M84.57 113.35v-1.7 M85.98 113.35v-1.7 M87.25 113.35v-3.2 M95.59 113.35v-1.7 M100.47 113.35v-1.7 M103.93 113.35v-1.7 M106.61 113.35v-1.7 M108.8 113.35v-1.7 M110.66 113.35v-1.7 M112.27 113.35v-1.7 M113.68 113.35v-1.7 M114.95 113.35v-3.2 M123.29 113.35v-1.7 M128.17 113.35v-1.7 M131.63 113.35v-1.7 M134.31 113.35v-1.7 M136.5 113.35v-1.7 M138.36 113.35v-1.7 M139.97 113.35v-1.7 M141.38 113.35v-1.7 M142.65 113.35v-3.2 M150.99 113.35v-1.7 M155.87 113.35v-1.7 M159.33 113.35v-1.7 M162.01 113.35v-1.7 M164.2 113.35v-1.7 M166.06 113.35v-1.7 M167.67 113.35v-1.7 M169.08 113.35v-1.7 M170.35 113.35v-3.2 M46.55 113.35v-2.4" class="tk"/>
<path d="M47.35 116.6 L49.25 110.2 M49.75 116.4 L51.75 110.2" class="brk"/>
<text x="35.1" y="116.42" class="tl" text-anchor="end">-80</text>
<text x="35.1" y="95.56" class="tl" text-anchor="end">-40</text>
<text x="35.1" y="74.7" class="tl" text-anchor="end">0</text>
<text x="35.1" y="53.84" class="tl" text-anchor="end">40</text>
<text x="35.1" y="32.98" class="tl" text-anchor="end">80</text>
<text x="35.1" y="12.12" class="tl" text-anchor="end">120</text>
<text x="46.65" y="125.5" class="tl" text-anchor="middle">0</text>
<text x="59.95" y="126.9" class="tl" text-anchor="middle">10<tspan class="sup" dy="-4.4">-7</tspan></text>
<text x="87.65" y="126.9" class="tl" text-anchor="middle">10<tspan class="sup" dy="-4.4">-6</tspan></text>
<text x="115.35" y="126.9" class="tl" text-anchor="middle">10<tspan class="sup" dy="-4.4">-5</tspan></text>
<text x="143.05" y="126.9" class="tl" text-anchor="middle">10<tspan class="sup" dy="-4.4">-4</tspan></text>
<text x="170.75" y="126.9" class="tl" text-anchor="middle">10<tspan class="sup" dy="-4.4">-3</tspan></text>
<text x="101" y="137" class="al" text-anchor="middle">Concentration (mol/L)</text>
<text transform="translate(16.1 62.1) rotate(-90)" class="al yl" text-anchor="middle">Inhibition (%)</text>
<text x="45.75" y="11.2" class="tt">M7</text>
<circle cx="48" cy="15.7" r="1.4" class="mk"/>
<text x="54.65" y="17.6" class="lg">Obs</text>
<path d="M42.45 22.97H53.55" stroke="#000" class="ln"/>
<text x="54.65" y="24.87" class="lg">BP Fit</text>
<path d="M42.45 30.24H53.55" class="ci"/>
<text x="54.65" y="32.14" class="lg">CI</text>
<rect x="46.7" y="36.21" width="2.6" height="2.6" class="mk"/>
<text x="54.65" y="39.41" class="lg">Blank</text>
<path d="M42.45 44.78H53.55" stroke="#ff1c1c" class="ln"/>
<text x="54.65" y="46.68" class="lg">CA-BPR</text>
<path d="M42.45 52.05H53.55" stroke="#2222fa" class="ln"/>
<text x="54.65" y="53.95" class="lg">CA-Hill</text>
<path d="M42.45 59.32H53.55" stroke="#a81c9e" class="ln"/>
<text x="54.65" y="61.22" class="lg">CA-BP</text>
<rect x="45.35" y="65.7" width="2.8" height="2.68" fill="#fff" class="bk"/>
<rect x="45.35" y="68.88" width="2.8" height="2.68" fill="#444" class="bk"/>
<rect x="45.35" y="72.05" width="2.8" height="2.68" fill="#fff" class="bk"/>
<rect x="45.35" y="75.23" width="2.8" height="2.68" fill="#fff" class="bk"/>
</g>
<path d="M434.7 379.8 C436.98 380.05 444.6 380.55 448.4 381.3 C452.2 382.05 454.9 383.18 457.5 384.3 C460.1 385.42 461.92 386.83 464 388 C466.08 389.17 467.83 389.73 470 391.3 C472.17 392.87 474.83 395.42 477 397.4 C479.17 399.38 481.27 401.87 483 403.2 C484.73 404.53 485.95 404.85 487.4 405.4 C488.85 405.95 490.35 406.13 491.7 406.5 C493.05 406.87 494.33 407.82 495.5 407.6 C496.67 407.38 497.45 406.47 498.7 405.2 C499.95 403.93 501.55 402.03 503 400 C504.45 397.97 506.23 394.87 507.4 393 C508.57 391.13 508.48 391.77 510 388.8 C511.52 385.83 514.47 379.37 516.5 375.2 C518.53 371.03 520.48 367.6 522.2 363.8 C523.92 360 525.47 355.63 526.8 352.4 C528.13 349.17 529.63 345.73 530.2 344.4" stroke="#000" stroke-width="1.3" class="cv"/>
<path d="M434.7 365.3 C436.98 365.55 444.08 365.78 448.4 366.8 C452.72 367.82 457.05 369.48 460.6 371.4 C464.15 373.32 466.67 375.88 469.7 378.3 C472.73 380.72 476.02 383.88 478.8 385.9 C481.58 387.92 484.03 389.48 486.4 390.4 C488.77 391.32 491.02 391.27 493 391.4 C494.98 391.53 496.28 392.57 498.3 391.2 C500.32 389.83 502.83 386.63 505.1 383.2 C507.37 379.77 509.82 374.97 511.9 370.6 C513.98 366.23 515.7 361.55 517.6 357 C519.5 352.45 521.38 347.87 523.3 343.3 C525.22 338.73 528.13 331.88 529.1 329.6" class="ci"/>
<path d="M434.7 394.2 C436.98 394.45 443.83 394.55 448.4 395.7 C452.97 396.85 458.3 398.93 462.1 401.1 C465.9 403.27 468.42 406.42 471.2 408.7 C473.98 410.98 476.27 412.9 478.8 414.8 C481.33 416.7 484.03 418.87 486.4 420.1 C488.77 421.33 491.02 421.9 493 422.2 C494.98 422.5 495.9 422.88 498.3 421.9 C500.7 420.92 504.37 419.33 507.4 416.3 C510.43 413.27 513.85 408.27 516.5 403.7 C519.15 399.13 521.2 393.65 523.3 388.9 C525.4 384.15 527.38 379.38 529.1 375.2 C530.82 371.02 532.85 365.7 533.6 363.8" class="ci"/>
<path d="M465.9 408.7 C467.55 408.6 473.13 408.37 475.8 408.1 C478.47 407.83 480.53 407.32 481.9 407.1 C483.27 406.88 483.65 406.85 484 406.8" stroke="#ff1c1c" stroke-width="1.25" class="cv"/>
<path d="M426.4 388.1 C428.8 388.37 436.62 389.07 440.8 389.7 C444.98 390.33 448.2 390.77 451.5 391.9 C454.8 393.03 457.82 394.72 460.6 396.5 C463.38 398.28 465.67 400.57 468.2 402.6 C470.73 404.63 473.27 406.98 475.8 408.7 C478.33 410.42 482.13 412.2 483.4 412.9" stroke="#2222fa" stroke-width="1.25" class="cv"/>
<path d="M445.4 388.1 C446.92 388.48 451.72 389 454.5 390.4 C457.28 391.8 459.52 394.62 462.1 396.5 C464.68 398.38 467.82 400.1 470 401.7 C472.18 403.3 473.6 405.12 475.2 406.1 C476.8 407.08 478 407.4 479.6 407.6 C481.2 407.8 483.07 407.7 484.8 407.3 C486.53 406.9 488.27 406.13 490 405.2 C491.73 404.27 493.47 403.28 495.2 401.7 C496.93 400.12 498.8 397.72 500.4 395.7 C502 393.68 503.48 391.63 504.8 389.6 C506.12 387.57 506.73 386.52 508.3 383.5 C509.87 380.48 512.27 375.65 514.2 371.5 C516.13 367.35 518 362.85 519.9 358.6 C521.8 354.35 523.88 349.32 525.6 346 C527.32 342.68 528.87 340.37 530.2 338.7 C531.53 337.03 533.03 336.45 533.6 336" stroke="#a81c9e" stroke-width="1.25" class="cv"/>
<circle cx="434" cy="384.6" r="1.55" class="ob"/>
<circle cx="440.8" cy="384.6" r="1.55" class="ob"/>
<circle cx="451.5" cy="382.8" r="1.55" class="ob"/>
<circle cx="457.5" cy="382.1" r="1.55" class="ob"/>
<circle cx="462.9" cy="382.8" r="1.55" class="ob"/>
<circle cx="469" cy="384.3" r="1.55" class="ob"/>
<circle cx="475" cy="386.2" r="1.55" class="ob"/>
<circle cx="484.2" cy="411" r="1.55" class="ob"/>
<circle cx="496.3" cy="409.9" r="1.55" class="ob"/>
<circle cx="501.7" cy="405.3" r="1.55" class="ob"/>
<circle cx="507.4" cy="391.2" r="1.55" class="ob"/>
<circle cx="513.1" cy="379.8" r="1.55" class="ob"/>
<circle cx="518.8" cy="371.8" r="1.55" class="ob"/>
<circle cx="524.5" cy="360.4" r="1.55" class="ob"/>
<circle cx="530.2" cy="347.8" r="1.55" class="ob"/>
</svg></body></html>
